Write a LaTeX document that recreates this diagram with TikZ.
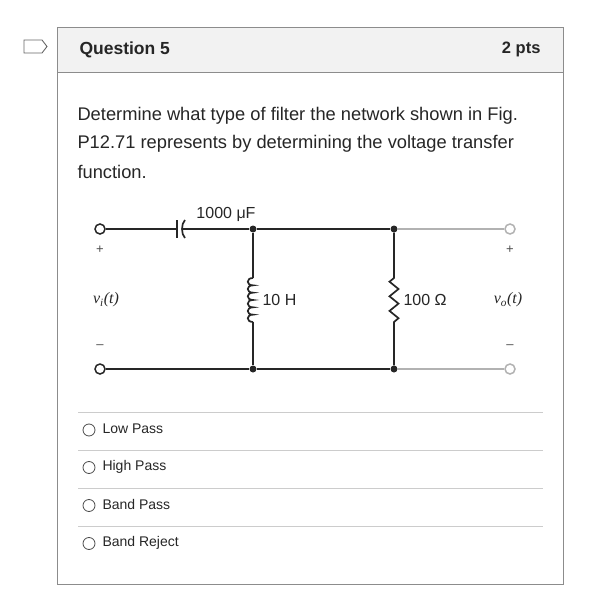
\documentclass[tikz,border=0pt]{standalone}
\usepackage{fontspec}
\setmainfont{Liberation Sans}
\newfontfamily\serifit{Liberation Serif}
\begin{document}
\begin{tikzpicture}[x=1pt,y=-1pt,
  wire/.style={line width=1.7pt,black!85},
  gwire/.style={line width=1.5pt,black!30},
  dotn/.style={circle,fill=black!85,inner sep=0pt,minimum size=7pt},
  term/.style={circle,draw=black!85,line width=1.5pt,fill=white,inner sep=0pt,minimum size=10pt},
  gterm/.style={circle,draw=black!30,line width=1.5pt,fill=white,inner sep=0pt,minimum size=10pt},
  qtext/.style={anchor=west,font=\fontsize{18.3}{20}\selectfont,text=black!85},
  opt/.style={anchor=west,font=\fontsize{14}{16}\selectfont,text=black!85},
  radio/.style={circle,draw=black!70,line width=0.8pt,inner sep=0pt,minimum size=12pt},
  sep/.style={draw=black!20,line width=0.8pt},
  clab/.style={font=\fontsize{16}{18}\selectfont,text=black!85}]
\useasboundingbox (0,0) rectangle (608,607);
% frame
\fill[black!5] (57,27) rectangle (563,72);
\draw[black!45,line width=0.8pt] (57,27) rectangle (563,584);
\draw[black!45,line width=0.8pt] (57,72) -- (563,72);
\draw[black!60,line width=0.9pt] (24,40) -- (42,40) -- (47,46.5) -- (42,53) -- (24,53) -- cycle;
\node[anchor=west,font=\bfseries\fontsize{17.5}{20}\selectfont,text=black!85] (q) at (76,49.5) {Question 5};
\node[anchor=east,font=\bfseries\fontsize{16.5}{20}\selectfont,text=black!85] (pts) at (544,49.5) {2 pts};
% question
\node[qtext] (l1) at (74,116) {Determine what type of filter the network shown in Fig.};
\node[qtext] (l2) at (74,144) {P12.71 represents by determining the voltage transfer};
\node[qtext] (l3) at (74,172) {function.};
% circuit nodes
\node[term] (ti) at (100,229) {};
\node[term] (bi) at (100,369) {};
\node[dotn] (a) at (253,229) {};
\node[dotn] (b) at (394,229) {};
\node[dotn] (c) at (253,369) {};
\node[dotn] (d) at (394,369) {};
\node[gterm] (to) at (510,229) {};
\node[gterm] (bo) at (510,369) {};
\coordinate (c1) at (177,229);
\coordinate (c2) at (182,229);
\coordinate (l1t) at (253,278);
\coordinate (l1b) at (253,322);
\coordinate (r1t) at (394,278);
\coordinate (r1b) at (394,322);
\draw[gwire] (b) -- (to);
\draw[gwire] (d) -- (bo);
\draw[wire] (ti) -- (c1);
\draw[wire] (c1) ++(0,-9) -- ++(0,18);
\draw[wire] (c2) ++(3,-9) .. controls +(-4,4) and +(-4,-4) .. ++(0,18);
\draw[wire] (c2) -- (a) -- (b);
\draw[wire] (bi) -- (c) -- (d);
\draw[wire] (a) -- (l1t);
\draw[wire] (l1t) \foreach \k in {1,...,6} { .. controls +(-7,0) and +(-7,0) .. ++(0,7.33) };
\draw[wire] (l1b) -- (c);
\draw[wire] (b) -- (r1t) -- ++(-4.5,3.7) -- ++(9,7.3) -- ++(-9,7.3) -- ++(9,7.3) -- ++(-9,7.3) -- ++(9,7.3) -- (r1b) -- (d);
% labels
\node[clab] (cl) at (226,214) {1000 μF};
\node[clab,anchor=west] (ll) at (259,300) {10 H};
\node[clab,anchor=west] (rl) at (400,300) {100 Ω};
\node[font=\serifit\itshape\fontsize{16}{18}\selectfont,text=black!85] (vi) at (106,300) {v\textsubscript{\itshape i}(t)};
\node[font=\serifit\itshape\fontsize{16}{18}\selectfont,text=black!85] (vo) at (508,300) {v\textsubscript{\itshape o}(t)};
\node[text=black!70,font=\fontsize{13}{15}\selectfont] (p1) at (100,250) {+};
\node[text=black!70,font=\fontsize{13}{15}\selectfont] (m1) at (100,347) {–};
\node[text=black!70,font=\fontsize{13}{15}\selectfont] (p2) at (510,250) {+};
\node[text=black!70,font=\fontsize{13}{15}\selectfont] (m2) at (510,347) {–};
% options
\foreach \y in {412,450,488,526} \draw[sep] (78,\y) -- (543,\y);
\node[radio] (r1) at (89,430) {};
\node[radio] (r2) at (89,467.5) {};
\node[radio] (r3) at (89,505.5) {};
\node[radio] (r4) at (89,543.5) {};
\node[opt] (o1) at (99,429) {Low Pass};
\node[opt] (o2) at (99,466.5) {High Pass};
\node[opt] (o3) at (99,504.5) {Band Pass};
\node[opt] (o4) at (99,542.5) {Band Reject};
\end{tikzpicture}
\end{document}
